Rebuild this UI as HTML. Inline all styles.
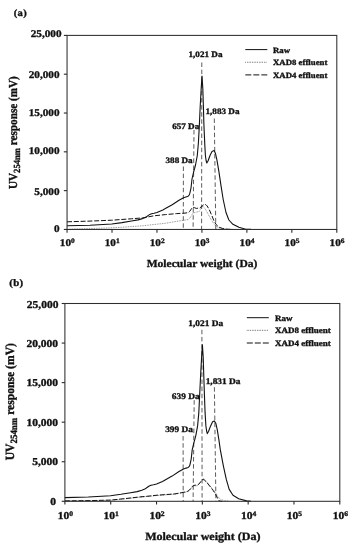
<!DOCTYPE html>
<html><head><meta charset="utf-8"><title>Molecular weight distribution</title>
<style>
html,body{margin:0;padding:0;background:#fff;}
svg{display:block}
text{text-rendering:geometricPrecision;font-family:"Liberation Serif","DejaVu Serif",serif;font-weight:bold;fill:#111;stroke:#111;stroke-width:0.33px;stroke-linejoin:round}
.tk{font-size:10.3px}
.sup{font-size:6.8px}
.sub{font-size:8.6px}
.ax{font-size:10.9px}
.ay{font-size:11.2px}
.pk{font-size:8.4px}
.lg{font-size:8.05px}
.tag{font-size:9.7px;letter-spacing:0.3px}
</style></head><body>
<svg width="353" height="550" viewBox="0 0 353 550">
<rect width="353" height="550" fill="#fff"/>
<g id="panel-a">
<line x1="183.4" y1="166.5" x2="183.3" y2="229.45" stroke="#333" stroke-width="0.8" stroke-dasharray="4.5 2.6"/>
<text transform="translate(179.10,162.80) scale(1.0900,1.0000)" class="pk" text-anchor="middle">388 Da</text>
<line x1="194.0" y1="130" x2="193.1" y2="229.45" stroke="#333" stroke-width="0.8" stroke-dasharray="4.5 2.6"/>
<text transform="translate(185.70,128.70) scale(1.0900,1.0000)" class="pk" text-anchor="middle">657 Da</text>
<line x1="201.8" y1="62.5" x2="201.6" y2="229.45" stroke="#333" stroke-width="0.8" stroke-dasharray="4.5 2.6"/>
<text transform="translate(205.50,57.30) scale(1.0900,1.0000)" class="pk" text-anchor="middle">1,021 Da</text>
<line x1="214.3" y1="118.5" x2="215.8" y2="229.45" stroke="#333" stroke-width="0.8" stroke-dasharray="4.5 2.6"/>
<text transform="translate(222.50,114.30) scale(1.0900,1.0000)" class="pk" text-anchor="middle">1,883 Da</text>
<polyline points="67.0,229.3 90.0,228.6 111.8,227.8 120.0,227.4 142.7,225.8 154.0,224.5 165.4,223.3 176.7,221.3 185.0,220.1 188.4,219.5 189.6,218.4 190.7,216.7 192.9,213.3 194.5,212.6 196.3,212.2 199.2,211.4 200.9,208.8 202.0,206.8 203.1,206.5 204.2,207.6 205.4,209.3 207.7,213.3 209.9,217.3 212.2,221.2 214.5,224.6 216.7,226.9 219.0,227.8 223.0,228.9 228.0,229.4" fill="none" stroke="#555" stroke-linejoin="round" stroke-width="0.75" stroke-dasharray="0.8 0.9"/>
<polyline points="67.0,221.8 90.0,221.1 111.8,220.2 120.0,219.6 131.3,218.8 142.7,217.9 154.0,215.8 165.4,214.6 176.7,213.6 185.0,213.1 188.4,212.6 189.6,211.5 190.7,209.9 192.0,208.0 192.9,207.3 194.5,207.7 196.3,208.4 199.7,208.0 202.0,206.2 203.5,204.9 204.8,204.2 206.0,204.8 207.1,205.9 209.4,209.9 211.6,215.0 213.9,220.7 216.2,224.6 219.0,227.2 222.4,228.4 227.0,229.2 232.0,229.4" fill="none" stroke="#111" stroke-linejoin="round" stroke-width="1" stroke-dasharray="5 1.8"/>
<polyline points="67.0,225.8 90.0,225.2 111.8,224.0 122.0,222.6 131.5,221.0 138.0,219.9 142.5,218.6 145.5,217.5 148.0,215.6 149.8,214.4 151.5,213.8 154.0,213.3 157.0,212.5 162.8,209.9 165.4,208.6 172.2,204.7 179.0,200.2 183.5,197.7 186.0,196.9 188.0,196.3 189.2,195.0 189.8,193.4 191.0,188.0 192.0,179.0 193.6,172.0 194.6,168.5 195.6,164.5 197.3,155.5 198.4,142.7 199.4,124.5 200.2,106.4 201.2,88.2 202.0,76.0 202.8,88.2 203.4,106.4 203.9,124.5 204.7,142.7 205.4,155.5 206.1,160.5 206.8,163.0 208.0,161.0 210.0,155.5 212.0,151.5 214.1,150.6 215.5,153.5 216.9,159.8 218.9,171.7 221.0,185.6 223.2,199.5 226.0,212.5 228.9,220.0 232.9,224.3 238.9,227.3 245.8,229.2 251.0,229.4" fill="none" stroke="#111" stroke-linejoin="round" stroke-width="1.1"/>
<rect x="67.05" y="35.4" width="269.75" height="194.05" fill="none" stroke="#2e2e2e" stroke-width="1.05"/>
<line x1="63.849999999999994" y1="229.45" x2="67.05" y2="229.45" stroke="#2a2a2a" stroke-width="1.1"/>
<text transform="translate(59.55,232.45) scale(1.0900,1.0000)" class="tk" text-anchor="end">0</text>
<line x1="63.849999999999994" y1="190.64" x2="67.05" y2="190.64" stroke="#2a2a2a" stroke-width="1.1"/>
<text transform="translate(59.55,194.64) scale(1.0900,1.0000)" class="tk" text-anchor="end">5,000</text>
<line x1="63.849999999999994" y1="151.83" x2="67.05" y2="151.83" stroke="#2a2a2a" stroke-width="1.1"/>
<text transform="translate(59.55,153.83) scale(1.0900,1.0000)" class="tk" text-anchor="end">10,000</text>
<line x1="63.849999999999994" y1="113.02" x2="67.05" y2="113.02" stroke="#2a2a2a" stroke-width="1.1"/>
<text transform="translate(59.55,116.22) scale(1.0900,1.0000)" class="tk" text-anchor="end">15,000</text>
<line x1="63.849999999999994" y1="74.21" x2="67.05" y2="74.21" stroke="#2a2a2a" stroke-width="1.1"/>
<text transform="translate(59.55,78.01) scale(1.0900,1.0000)" class="tk" text-anchor="end">20,000</text>
<line x1="63.849999999999994" y1="35.40" x2="67.05" y2="35.40" stroke="#2a2a2a" stroke-width="1.1"/>
<text transform="translate(61.55,36.90) scale(1.0900,1.0000)" class="tk" text-anchor="end">25,000</text>
<line x1="67.05" y1="229.45" x2="67.05" y2="232.64999999999998" stroke="#2a2a2a" stroke-width="1.1"/>
<text transform="translate(67.25,246.25) scale(1.0900,1.0000)" class="tk" text-anchor="middle">10<tspan dy="-3.4" class="sup">0</tspan></text>
<line x1="112.01" y1="229.45" x2="112.01" y2="232.64999999999998" stroke="#2a2a2a" stroke-width="1.1"/>
<text transform="translate(112.21,246.25) scale(1.0900,1.0000)" class="tk" text-anchor="middle">10<tspan dy="-3.4" class="sup">1</tspan></text>
<line x1="156.97" y1="229.45" x2="156.97" y2="232.64999999999998" stroke="#2a2a2a" stroke-width="1.1"/>
<text transform="translate(157.17,246.25) scale(1.0900,1.0000)" class="tk" text-anchor="middle">10<tspan dy="-3.4" class="sup">2</tspan></text>
<line x1="201.93" y1="229.45" x2="201.93" y2="232.64999999999998" stroke="#2a2a2a" stroke-width="1.1"/>
<text transform="translate(202.12,246.25) scale(1.0900,1.0000)" class="tk" text-anchor="middle">10<tspan dy="-3.4" class="sup">3</tspan></text>
<line x1="246.88" y1="229.45" x2="246.88" y2="232.64999999999998" stroke="#2a2a2a" stroke-width="1.1"/>
<text transform="translate(247.08,246.25) scale(1.0900,1.0000)" class="tk" text-anchor="middle">10<tspan dy="-3.4" class="sup">4</tspan></text>
<line x1="291.84" y1="229.45" x2="291.84" y2="232.64999999999998" stroke="#2a2a2a" stroke-width="1.1"/>
<text transform="translate(292.04,246.25) scale(1.0900,1.0000)" class="tk" text-anchor="middle">10<tspan dy="-3.4" class="sup">5</tspan></text>
<line x1="336.80" y1="229.45" x2="336.80" y2="232.64999999999998" stroke="#2a2a2a" stroke-width="1.1"/>
<text transform="translate(337.00,246.25) scale(1.0900,1.0000)" class="tk" text-anchor="middle">10<tspan dy="-3.4" class="sup">6</tspan></text>
<text transform="translate(202.00,266.60) scale(1.0600,1.0000)" class="ax" text-anchor="middle">Molecular weight (Da)</text>
<text transform="translate(17.00,132.60) scale(1.0900,1.0000) rotate(-90)" class="ay" text-anchor="middle">UV<tspan dy="2.5" class="sub">254nm</tspan><tspan dy="-2.5"> response (mV)</tspan></text>
<text transform="translate(13.70,15.50) scale(1.0900,1.0000)" class="tag" text-anchor="start">(a)</text>
<line x1="245.3" y1="49.60" x2="267.3" y2="49.60" stroke="#111" stroke-width="1" />
<text transform="translate(273.00,52.50) scale(1.0900,1.0000)" class="lg" text-anchor="start">Raw</text>
<line x1="245.3" y1="62.25" x2="267.3" y2="62.25" stroke="#111" stroke-width="1" stroke-dasharray="0.7 1.0" stroke-width="0.7" opacity="0.75"/>
<text transform="translate(273.00,65.15) scale(1.0900,1.0000)" class="lg" text-anchor="start">XAD8 effluent</text>
<line x1="245.3" y1="74.90" x2="267.3" y2="74.90" stroke="#111" stroke-width="1" stroke-dasharray="6 2"/>
<text transform="translate(273.00,77.80) scale(1.0900,1.0000)" class="lg" text-anchor="start">XAD4 effluent</text>
</g>
<g id="panel-b">
<line x1="183.1" y1="436.1" x2="183.2" y2="501.3" stroke="#333" stroke-width="0.8" stroke-dasharray="4.5 2.6"/>
<text transform="translate(179.10,432.40) scale(1.1173,1.0250)" class="pk" text-anchor="middle">399 Da</text>
<line x1="194.2" y1="400.2" x2="193.1" y2="501.3" stroke="#333" stroke-width="0.8" stroke-dasharray="4.5 2.6"/>
<text transform="translate(185.70,398.80) scale(1.1173,1.0250)" class="pk" text-anchor="middle">639 Da</text>
<line x1="201.9" y1="329.8" x2="202.1" y2="501.3" stroke="#333" stroke-width="0.8" stroke-dasharray="4.5 2.6"/>
<text transform="translate(205.70,325.90) scale(1.1173,1.0250)" class="pk" text-anchor="middle">1,021 Da</text>
<line x1="214.4" y1="387.2" x2="215.9" y2="501.3" stroke="#333" stroke-width="0.8" stroke-dasharray="4.5 2.6"/>
<text transform="translate(223.10,383.90) scale(1.1173,1.0250)" class="pk" text-anchor="middle">1,831 Da</text>
<polyline points="64.9,501.0 110.7,500.3 140.0,497.2 157.0,495.5 175.0,494.1 185.0,492.3 187.7,491.6 189.5,490.3 191.1,488.3 193.7,486.0 197.1,485.8 200.5,482.3 202.0,480.0 203.5,478.6 205.0,479.8 206.8,481.8 210.2,486.0 213.6,490.2 216.2,493.6 217.5,496.4 220.9,499.5 224.3,500.7 229.0,501.2" fill="none" stroke="#555" stroke-linejoin="round" stroke-width="0.75" stroke-dasharray="0.8 0.9"/>
<polyline points="64.9,500.9 90.0,500.6 110.7,500.1 125.0,498.6 140.0,496.9 150.0,496.0 157.0,495.2 165.6,494.6 175.0,493.9 181.8,492.6 185.0,492.0 187.7,491.3 189.5,490.0 191.1,487.9 192.5,486.3 193.7,485.4 195.5,485.2 197.1,485.4 198.8,484.2 200.5,482.0 201.8,480.3 203.0,479.4 204.5,480.2 206.4,482.0 209.8,486.2 213.2,490.5 215.8,494.7 218.3,499.8 219.5,501.0 222.0,501.3" fill="none" stroke="#111" stroke-linejoin="round" stroke-width="1" stroke-dasharray="5 1.8"/>
<polyline points="64.8,497.6 88.3,497.0 110.5,495.7 120.9,494.3 130.6,492.7 137.2,491.6 141.8,490.2 144.8,489.1 147.4,487.2 149.2,486.0 151.0,485.3 153.5,484.8 156.6,484.0 162.5,481.4 165.1,480.0 172.1,476.1 179.0,471.5 183.6,468.9 186.1,468.1 188.2,467.5 189.4,466.2 190.0,464.6 191.2,459.0 192.2,449.9 193.9,442.7 194.9,439.2 195.9,435.1 197.6,425.9 198.8,412.9 199.7,394.3 200.6,375.9 201.6,357.3 202.4,344.9 203.2,357.3 203.8,375.9 204.4,394.3 205.1,412.9 205.9,425.9 206.6,431.0 207.3,433.6 208.5,431.5 210.6,425.9 212.6,421.8 214.4,420.9 215.9,423.5 217.3,429.8 218.9,439.8 220.3,449.7 223.3,465.6 226.3,479.4 229.2,489.4 233.0,495.3 238.7,498.7 246.6,500.9 251.0,501.3" fill="none" stroke="#111" stroke-linejoin="round" stroke-width="1.1"/>
<rect x="64.9" y="303.5" width="274.90" height="197.80" fill="none" stroke="#2e2e2e" stroke-width="1.05"/>
<line x1="61.7" y1="501.30" x2="64.9" y2="501.30" stroke="#2a2a2a" stroke-width="1.1"/>
<text transform="translate(56.10,505.20) scale(1.1173,1.0250)" class="tk" text-anchor="end">0</text>
<line x1="61.7" y1="461.74" x2="64.9" y2="461.74" stroke="#2a2a2a" stroke-width="1.1"/>
<text transform="translate(58.10,464.84) scale(1.1173,1.0250)" class="tk" text-anchor="end">5,000</text>
<line x1="61.7" y1="422.18" x2="64.9" y2="422.18" stroke="#2a2a2a" stroke-width="1.1"/>
<text transform="translate(58.10,425.98) scale(1.1173,1.0250)" class="tk" text-anchor="end">10,000</text>
<line x1="61.7" y1="382.62" x2="64.9" y2="382.62" stroke="#2a2a2a" stroke-width="1.1"/>
<text transform="translate(58.10,385.82) scale(1.1173,1.0250)" class="tk" text-anchor="end">15,000</text>
<line x1="61.7" y1="343.06" x2="64.9" y2="343.06" stroke="#2a2a2a" stroke-width="1.1"/>
<text transform="translate(58.10,346.86) scale(1.1173,1.0250)" class="tk" text-anchor="end">20,000</text>
<line x1="61.7" y1="303.50" x2="64.9" y2="303.50" stroke="#2a2a2a" stroke-width="1.1"/>
<text transform="translate(58.40,307.70) scale(1.1173,1.0250)" class="tk" text-anchor="end">25,000</text>
<line x1="64.90" y1="501.3" x2="64.90" y2="504.5" stroke="#2a2a2a" stroke-width="1.1"/>
<text transform="translate(65.40,519.10) scale(1.1173,1.0250)" class="tk" text-anchor="middle">10<tspan dy="-3.4" class="sup">0</tspan></text>
<line x1="110.72" y1="501.3" x2="110.72" y2="504.5" stroke="#2a2a2a" stroke-width="1.1"/>
<text transform="translate(111.22,519.10) scale(1.1173,1.0250)" class="tk" text-anchor="middle">10<tspan dy="-3.4" class="sup">1</tspan></text>
<line x1="156.53" y1="501.3" x2="156.53" y2="504.5" stroke="#2a2a2a" stroke-width="1.1"/>
<text transform="translate(157.03,519.10) scale(1.1173,1.0250)" class="tk" text-anchor="middle">10<tspan dy="-3.4" class="sup">2</tspan></text>
<line x1="202.35" y1="501.3" x2="202.35" y2="504.5" stroke="#2a2a2a" stroke-width="1.1"/>
<text transform="translate(202.85,519.10) scale(1.1173,1.0250)" class="tk" text-anchor="middle">10<tspan dy="-3.4" class="sup">3</tspan></text>
<line x1="248.17" y1="501.3" x2="248.17" y2="504.5" stroke="#2a2a2a" stroke-width="1.1"/>
<text transform="translate(248.67,519.10) scale(1.1173,1.0250)" class="tk" text-anchor="middle">10<tspan dy="-3.4" class="sup">4</tspan></text>
<line x1="293.98" y1="501.3" x2="293.98" y2="504.5" stroke="#2a2a2a" stroke-width="1.1"/>
<text transform="translate(294.48,519.10) scale(1.1173,1.0250)" class="tk" text-anchor="middle">10<tspan dy="-3.4" class="sup">5</tspan></text>
<line x1="339.80" y1="501.3" x2="339.80" y2="504.5" stroke="#2a2a2a" stroke-width="1.1"/>
<text transform="translate(340.30,519.10) scale(1.1173,1.0250)" class="tk" text-anchor="middle">10<tspan dy="-3.4" class="sup">6</tspan></text>
<text transform="translate(202.80,539.50) scale(1.1039,1.0250)" class="ax" text-anchor="middle">Molecular weight (Da)</text>
<text transform="translate(14.20,401.70) scale(1.1173,1.0383) rotate(-90)" class="ay" text-anchor="middle">UV<tspan dy="2.5" class="sub">254nm</tspan><tspan dy="-2.5"> response (mV)</tspan></text>
<text transform="translate(9.20,286.20) scale(1.1173,1.0250)" class="tag" text-anchor="start">(b)</text>
<line x1="246.8" y1="317.70" x2="268.8" y2="317.70" stroke="#111" stroke-width="1" />
<text transform="translate(275.00,320.60) scale(1.1173,1.0250)" class="lg" text-anchor="start">Raw</text>
<line x1="246.8" y1="330.35" x2="268.8" y2="330.35" stroke="#111" stroke-width="1" stroke-dasharray="0.7 1.0" stroke-width="0.7" opacity="0.75"/>
<text transform="translate(275.00,333.25) scale(1.1173,1.0250)" class="lg" text-anchor="start">XAD8 effluent</text>
<line x1="246.8" y1="343.00" x2="268.8" y2="343.00" stroke="#111" stroke-width="1" stroke-dasharray="6 2"/>
<text transform="translate(275.00,345.90) scale(1.1173,1.0250)" class="lg" text-anchor="start">XAD4 effluent</text>
</g>
</svg>
</body></html>
